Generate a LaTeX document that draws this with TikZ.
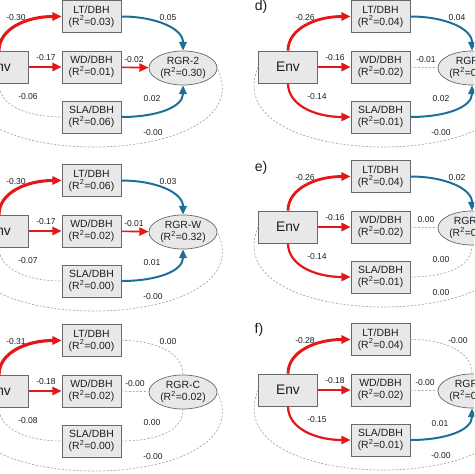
\documentclass[tikz,border=0pt]{standalone}
\usepackage{fontspec}
\setmainfont{Liberation Sans}
\usetikzlibrary{shapes,arrows.meta,positioning}
\definecolor{red1}{RGB}{228,24,24}
\definecolor{blue1}{RGB}{28,112,150}
\definecolor{gray1}{RGB}{232,232,232}
\definecolor{gray2}{RGB}{105,105,105}
\definecolor{gray3}{RGB}{170,170,170}
\definecolor{text1}{RGB}{30,30,30}

\begin{document}
\begin{tikzpicture}[x=0.03cm, y=-0.03cm,
    box/.style={draw=gray2, fill=gray1, line width=0.6pt, minimum width=1.77cm, minimum height=0.96cm, inner sep=0pt, align=center, text=text1, font=\fontsize{8.9}{10.2}\selectfont},
    envbox/.style={box, font=\fontsize{11.8}{13}\selectfont},
    resp/.style={box, ellipse, minimum width=2.04cm, minimum height=1.02cm},
    coef/.style={text=text1, inner sep=0pt, font=\fontsize{7.3}{8}\selectfont},
    tag/.style={text=text1, inner sep=0pt, font=\fontsize{12}{14}\selectfont},
    neg/.style={draw=red1, -{Triangle[length=8pt,width=7pt]}},
    posi/.style={draw=blue1, line width=1.7pt, -{Triangle[length=7.5pt,width=6.5pt]}},
    ns/.style={draw=gray3, line width=0.6pt, dash pattern=on 1.8pt off 1.4pt}]
    \useasboundingbox (0,0) rectangle (474,474);
    \clip (0,0) rectangle (474,474);

    \begin{scope}[shift={(0,67)}]
    \node[envbox] (envA) at (-1,0) {Env};
    \node[box] (ltA) at (91.5,-50.5) {LT/DBH\\(R\textsuperscript{2}=0.03)};
    \node[box] (wdA) at (91.5,0) {WD/DBH\\(R\textsuperscript{2}=0.01)};
    \node[box] (slaA) at (91.5,50) {SLA/DBH\\(R\textsuperscript{2}=0.06)};
    \node[resp] (rgrA) at (183,1) {RGR-2\\(R\textsuperscript{2}=0.30)};
    \draw[neg, line width=2.6pt] (envA.north) .. controls +(0,-22) and +(-35,0) .. (ltA.west);
    \draw[neg, line width=2pt] (envA) -- (wdA);
    \draw[ns] (envA.south) .. controls +(0,22) and +(-35,0) .. (slaA.west);
    \draw[posi] (ltA.east) .. controls +(35,0) and +(0,-22) .. (rgrA.north);
    \draw[neg, line width=1.4pt] (wdA) -- (rgrA);
    \draw[posi] (slaA.east) .. controls +(35,0) and +(0,22) .. (rgrA.south);
    \draw[ns] (envA.west) .. controls +(-45,108) and +(50,104) .. (rgrA.east);
    \node[coef] (elA) at (16,-49) {-0.30};
    \node[coef] (ewA) at (46,-9) {-0.17};
    \node[coef] (esA) at (28,30) {-0.06};
    \node[coef] (lrA) at (168,-49) {0.05};
    \node[coef] (wrA) at (134,-7) {-0.02};
    \node[coef] (srA) at (152,32) {0.02};
    \node[coef] (erA) at (153,66) {-0.00};
    \end{scope}

    \begin{scope}[shift={(0,231)}]
    \node[envbox] (envB) at (-1,0) {Env};
    \node[box] (ltB) at (91.5,-50.5) {LT/DBH\\(R\textsuperscript{2}=0.06)};
    \node[box] (wdB) at (91.5,0) {WD/DBH\\(R\textsuperscript{2}=0.02)};
    \node[box] (slaB) at (91.5,50) {SLA/DBH\\(R\textsuperscript{2}=0.00)};
    \node[resp] (rgrB) at (183,1) {RGR-W\\(R\textsuperscript{2}=0.32)};
    \draw[neg, line width=2.6pt] (envB.north) .. controls +(0,-22) and +(-35,0) .. (ltB.west);
    \draw[neg, line width=2pt] (envB) -- (wdB);
    \draw[ns] (envB.south) .. controls +(0,22) and +(-35,0) .. (slaB.west);
    \draw[posi] (ltB.east) .. controls +(35,0) and +(0,-22) .. (rgrB.north);
    \draw[neg, line width=1.4pt] (wdB) -- (rgrB);
    \draw[posi] (slaB.east) .. controls +(35,0) and +(0,22) .. (rgrB.south);
    \draw[ns] (envB.west) .. controls +(-45,108) and +(50,104) .. (rgrB.east);
    \node[coef] (elB) at (16,-49) {-0.30};
    \node[coef] (ewB) at (46,-9) {-0.17};
    \node[coef] (esB) at (28,30) {-0.07};
    \node[coef] (lrB) at (168,-49) {0.03};
    \node[coef] (wrB) at (134,-7) {-0.01};
    \node[coef] (srB) at (152,32) {0.01};
    \node[coef] (erB) at (153,66) {-0.00};
    \end{scope}

    \begin{scope}[shift={(0,391)}]
    \node[envbox] (envC) at (-1,0) {Env};
    \node[box] (ltC) at (91.5,-50.5) {LT/DBH\\(R\textsuperscript{2}=0.00)};
    \node[box] (wdC) at (91.5,0) {WD/DBH\\(R\textsuperscript{2}=0.02)};
    \node[box] (slaC) at (91.5,50) {SLA/DBH\\(R\textsuperscript{2}=0.00)};
    \node[resp] (rgrC) at (183,1) {RGR-C\\(R\textsuperscript{2}=0.02)};
    \draw[neg, line width=2.7pt] (envC.north) .. controls +(0,-22) and +(-35,0) .. (ltC.west);
    \draw[neg, line width=2pt] (envC) -- (wdC);
    \draw[ns] (envC.south) .. controls +(0,22) and +(-35,0) .. (slaC.west);
    \draw[ns] (ltC.east) .. controls +(35,0) and +(0,-22) .. (rgrC.north);
    \draw[ns] (wdC) -- (rgrC);
    \draw[ns] (slaC.east) .. controls +(35,0) and +(0,22) .. (rgrC.south);
    \draw[ns] (envC.west) .. controls +(-45,108) and +(50,104) .. (rgrC.east);
    \node[coef] (elC) at (16,-49) {-0.31};
    \node[coef] (ewC) at (46,-9) {-0.18};
    \node[coef] (esC) at (28,30) {-0.08};
    \node[coef] (lrC) at (168,-49) {0.00};
    \node[coef] (wrC) at (135,-7) {-0.00};
    \node[coef] (srC) at (152,32) {0.00};
    \node[coef] (erC) at (153,66) {-0.00};
    \end{scope}

    \begin{scope}[shift={(289,67)}]
    \node[tag] (tagD) at (-28,-60) {d)};
    \node[envbox] (envD) at (-1,0) {Env};
    \node[box] (ltD) at (91.5,-50.5) {LT/DBH\\(R\textsuperscript{2}=0.04)};
    \node[box] (wdD) at (91.5,0) {WD/DBH\\(R\textsuperscript{2}=0.02)};
    \node[box] (slaD) at (91.5,50) {SLA/DBH\\(R\textsuperscript{2}=0.01)};
    \node[resp] (rgrD) at (183,1) {RGR-2\\(R\textsuperscript{2}=0.05)};
    \draw[neg, line width=2.4pt] (envD.north) .. controls +(0,-22) and +(-35,0) .. (ltD.west);
    \draw[neg, line width=2pt] (envD) -- (wdD);
    \draw[neg, line width=1.9pt] (envD.south) .. controls +(0,22) and +(-35,0) .. (slaD.west);
    \draw[posi] (ltD.east) .. controls +(35,0) and +(0,-22) .. (rgrD.north);
    \draw[ns] (wdD) -- (rgrD);
    \draw[posi] (slaD.east) .. controls +(35,0) and +(0,22) .. (rgrD.south);
    \draw[ns] (envD.west) .. controls +(-45,108) and +(50,104) .. (rgrD.east);
    \node[coef] (elD) at (16,-49) {-0.26};
    \node[coef] (ewD) at (46,-9) {-0.16};
    \node[coef] (esD) at (28,30) {-0.14};
    \node[coef] (lrD) at (168,-49) {0.04};
    \node[coef] (wrD) at (137,-7) {-0.01};
    \node[coef] (srD) at (152,32) {0.02};
    \node[coef] (erD) at (152,66) {-0.00};
    \end{scope}

    \begin{scope}[shift={(289,227)}]
    \node[tag] (tagE) at (-28,-59) {e)};
    \node[envbox] (envE) at (-1,0) {Env};
    \node[box] (ltE) at (91.5,-50.5) {LT/DBH\\(R\textsuperscript{2}=0.04)};
    \node[box] (wdE) at (91.5,0) {WD/DBH\\(R\textsuperscript{2}=0.02)};
    \node[box] (slaE) at (91.5,50) {SLA/DBH\\(R\textsuperscript{2}=0.01)};
    \node[resp] (rgrE) at (183,1) {RGR-W\\(R\textsuperscript{2}=0.02)};
    \draw[neg, line width=2.4pt] (envE.north) .. controls +(0,-22) and +(-35,0) .. (ltE.west);
    \draw[neg, line width=2pt] (envE) -- (wdE);
    \draw[neg, line width=1.9pt] (envE.south) .. controls +(0,22) and +(-35,0) .. (slaE.west);
    \draw[posi] (ltE.east) .. controls +(35,0) and +(0,-22) .. (rgrE.north);
    \draw[ns] (wdE) -- (rgrE);
    \draw[ns] (slaE.east) .. controls +(35,0) and +(0,22) .. (rgrE.south);
    \draw[ns] (envE.west) .. controls +(-45,108) and +(50,104) .. (rgrE.east);
    \node[coef] (elE) at (16,-49) {-0.26};
    \node[coef] (ewE) at (46,-9) {-0.16};
    \node[coef] (esE) at (28,30) {-0.14};
    \node[coef] (lrE) at (168,-49) {0.02};
    \node[coef] (wrE) at (137,-7) {0.00};
    \node[coef] (srE) at (152,33) {0.00};
    \node[coef] (erE) at (152,66) {0.00};
    \end{scope}

    \begin{scope}[shift={(289,390)}]
    \node[tag] (tagF) at (-30,-60) {f)};
    \node[envbox] (envF) at (-1,0) {Env};
    \node[box] (ltF) at (91.5,-50.5) {LT/DBH\\(R\textsuperscript{2}=0.04)};
    \node[box] (wdF) at (91.5,0) {WD/DBH\\(R\textsuperscript{2}=0.02)};
    \node[box] (slaF) at (91.5,50) {SLA/DBH\\(R\textsuperscript{2}=0.01)};
    \node[resp] (rgrF) at (183,1) {RGR-C\\(R\textsuperscript{2}=0.01)};
    \draw[neg, line width=2.5pt] (envF.north) .. controls +(0,-22) and +(-35,0) .. (ltF.west);
    \draw[neg, line width=2pt] (envF) -- (wdF);
    \draw[neg, line width=1.9pt] (envF.south) .. controls +(0,22) and +(-35,0) .. (slaF.west);
    \draw[ns] (ltF.east) .. controls +(35,0) and +(0,-22) .. (rgrF.north);
    \draw[ns] (wdF) -- (rgrF);
    \draw[posi] (slaF.east) .. controls +(35,0) and +(0,22) .. (rgrF.south);
    \draw[ns] (envF.west) .. controls +(-45,108) and +(50,104) .. (rgrF.east);
    \node[coef] (elF) at (16,-49) {-0.28};
    \node[coef] (ewF) at (46,-9) {-0.18};
    \node[coef] (esF) at (28,30) {-0.15};
    \node[coef] (lrF) at (169,-49) {-0.00};
    \node[coef] (wrF) at (136,-7) {-0.00};
    \node[coef] (srF) at (151,34) {0.01};
    \node[coef] (erF) at (152,66) {-0.00};
    \end{scope}
\end{tikzpicture}
\end{document}
